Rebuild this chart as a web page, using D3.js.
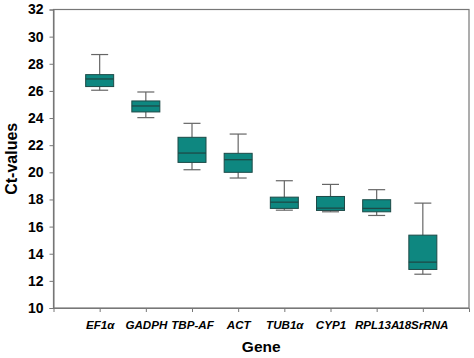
<!DOCTYPE html>
<html><head><meta charset="utf-8">
<script src="https://cdn.jsdelivr.net/npm/d3@7"></script>
<style>body{margin:0;background:#fff}svg{display:block}</style>
</head><body>
<script>
const genes = ["EF1α","GADPH","TBP-AF","ACT","TUB1α","CYP1","RPL13A","18SrRNA"];
const whiskerLow  = [26.05, 24.03, 20.19, 19.58, 17.21, 17.09, 16.82, 12.49];
const q1          = [26.32, 24.45, 20.73, 20.00, 17.34, 17.19, 17.09, 12.84];
const median      = [26.88, 24.89, 21.42, 20.93, 17.80, 17.36, 17.34, 13.38];
const q3          = [27.20, 25.26, 22.58, 21.40, 18.17, 18.22, 17.98, 15.37];
const whiskerHigh = [28.68, 25.92, 23.61, 22.82, 19.38, 19.11, 18.72, 17.73];
const yTicks = [10,12,14,16,18,20,22,24,26,28,30,32];

const W=474,H=358, m={l:53.5,r:5,t:9.5,b:50};
const svg=d3.select("body").append("svg").attr("width",W).attr("height",H);
const x=d3.scalePoint().domain(genes).range([m.l,W-m.r]).padding(1);
const y=d3.scaleLinear().domain([10,32]).range([H-m.b,m.t]);
const frame="#777";
svg.append("rect").attr("x",m.l).attr("y",m.t).attr("width",W-m.r-m.l).attr("height",H-m.b-m.t)
  .attr("fill","none").attr("stroke",frame).attr("stroke-width",1.2);
const ya=svg.append("g").attr("transform",`translate(${m.l},0)`)
  .call(d3.axisLeft(y).tickValues(yTicks).tickSize(4).tickPadding(6));
ya.select(".domain").attr("stroke",frame);
ya.selectAll(".tick line").attr("stroke",frame);
ya.selectAll("text").attr("font-family","Liberation Sans, Arial, sans-serif").attr("font-weight","bold").attr("font-size","14px").attr("fill","#000");
const xa=svg.append("g").attr("transform",`translate(0,${H-m.b})`)
  .call(d3.axisBottom(x).tickSize(4).tickPadding(9));
xa.select(".domain").attr("stroke",frame);
xa.selectAll(".tick line").attr("stroke",frame);
xa.selectAll("text").attr("font-family","Liberation Sans, Arial, sans-serif").attr("font-weight","bold").attr("font-style","italic").attr("font-size","11.6px").attr("fill","#000");

const data=genes.map((g,i)=>({g,lo:whiskerLow[i],q1:q1[i],md:median[i],q3:q3[i],hi:whiskerHigh[i]}));
const bw=28, cw=17, wc="#666", bc="#1d4a47";
const gb=svg.append("g").selectAll("g").data(data).join("g");
gb.append("line").attr("x1",d=>x(d.g)).attr("x2",d=>x(d.g)).attr("y1",d=>y(d.q3)).attr("y2",d=>y(d.hi)).attr("stroke",wc).attr("stroke-width",1.2);
gb.append("line").attr("x1",d=>x(d.g)).attr("x2",d=>x(d.g)).attr("y1",d=>y(d.q1)).attr("y2",d=>y(d.lo)).attr("stroke",wc).attr("stroke-width",1.2);
gb.append("line").attr("x1",d=>x(d.g)-cw/2).attr("x2",d=>x(d.g)+cw/2).attr("y1",d=>y(d.hi)).attr("y2",d=>y(d.hi)).attr("stroke",wc).attr("stroke-width",1.2);
gb.append("line").attr("x1",d=>x(d.g)-cw/2).attr("x2",d=>x(d.g)+cw/2).attr("y1",d=>y(d.lo)).attr("y2",d=>y(d.lo)).attr("stroke",wc).attr("stroke-width",1.2);
gb.append("rect").attr("x",d=>x(d.g)-bw/2).attr("width",bw).attr("y",d=>y(d.q3)).attr("height",d=>y(d.q1)-y(d.q3))
  .attr("fill","#0e8780").attr("stroke",bc).attr("stroke-width",1);
gb.append("line").attr("x1",d=>x(d.g)-bw/2).attr("x2",d=>x(d.g)+bw/2).attr("y1",d=>y(d.md)).attr("y2",d=>y(d.md)).attr("stroke",bc).attr("stroke-width",1.3);

svg.append("text").attr("x",(m.l+W-m.r)/2).attr("y",352).attr("text-anchor","middle")
  .attr("font-family","Liberation Sans, Arial, sans-serif").attr("font-weight","bold").attr("font-size","15.5px").text("Gene");
svg.append("text").attr("transform",`translate(17,${(m.t+H-m.b)/2}) rotate(-90)`).attr("text-anchor","middle")
  .attr("font-family","Liberation Sans, Arial, sans-serif").attr("font-weight","bold").attr("font-size","16px").text("Ct-values");
</script>
</body></html>
